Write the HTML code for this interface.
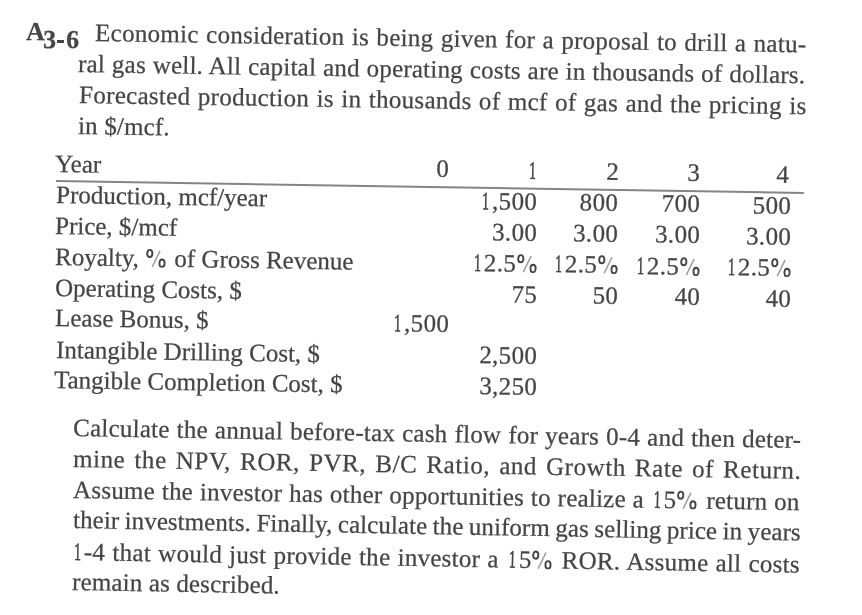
<!DOCTYPE html>
<html><head><meta charset="utf-8"><style>
html,body{margin:0;padding:0;background:#fff;width:862px;height:615px;overflow:hidden;position:relative}
.t{position:absolute;letter-spacing:0.15px;font-family:"Liberation Serif",serif;font-size:25px;line-height:25px;height:25px;white-space:nowrap;color:#454545;transform-origin:0 21px;-webkit-text-stroke:0.25px #454545}
.r{text-align:right;width:200px;letter-spacing:0.3px;margin-right:-0.3px;transform-origin:200px 21px}
.hd{position:absolute;font-family:"Liberation Serif",serif;font-weight:bold;font-size:26px;line-height:25px;height:25px;white-space:nowrap;color:#454545;transform:rotate(0.9deg);transform-origin:0 21px;-webkit-text-stroke:0.25px #454545}
.rule{position:absolute;background:#858585;transform-origin:0 1px}
.blk{position:absolute;background:#454545}
.pc{vertical-align:baseline;margin-bottom:-0.5px}
.one{display:inline-block;transform:scaleX(0.55);-webkit-text-stroke:0.7px #454545}
#w{position:absolute;left:0;top:0;width:862px;height:615px;filter:blur(0.3px)}
</style></head><body><div id="w">
<div class="hd" style="left:26.20px;top:18.90px">A</div>
<div class="hd" style="left:43.40px;top:26.80px">3</div>
<div class="blk" style="left:57.2px;top:39.7px;width:7.4px;height:3.4px;transform:rotate(0.9deg)"></div>
<div class="hd" style="left:66.00px;top:26.80px">6</div>
<div class="t" style="left:95.26px;top:20.40px;transform:rotate(0.9167deg);letter-spacing:0.285px;word-spacing:0.84px">Economic consideration is being given for a proposal to drill a natu-</div>
<div class="t" style="left:78.44px;top:50.90px;transform:rotate(0.8880deg);letter-spacing:0.214px;word-spacing:0.39px">ral gas well. All capital and operating costs are in thousands of dollars.</div>
<div class="t" style="left:78.50px;top:81.80px;transform:rotate(0.8880deg);letter-spacing:0.302px;word-spacing:0.89px">Forecasted production is in thousands of mcf of gas and the pricing is</div>
<div class="t" style="left:77.78px;top:112.60px;transform:rotate(0.8995deg)">in $/mcf.</div>
<div class="t" style="left:72.72px;top:415.10px;transform:rotate(0.9453deg);letter-spacing:0.236px;word-spacing:0.55px">Calculate the annual before-tax cash flow for years 0-4 and then deter-</div>
<div class="t" style="left:72.72px;top:446.40px;transform:rotate(0.9281deg);letter-spacing:0.562px;word-spacing:2.28px">mine the NPV, ROR, PVR, B/C Ratio, and Growth Rate of Return.</div>
<div class="t" style="left:72.74px;top:476.60px;transform:rotate(0.9625deg);letter-spacing:0.217px;word-spacing:0.43px">Assume the investor has other opportunities to realize a <span class="one">1</span>5<svg class="pc" width="23" height="20" viewBox="0 0 23 20"><ellipse cx="4.6" cy="6.0" rx="2.6" ry="3.6" fill="none" stroke="#454545" stroke-width="1.9"/><ellipse cx="17.0" cy="15.6" rx="2.6" ry="3.8" fill="none" stroke="#454545" stroke-width="1.9"/><line x1="14.8" y1="3.2" x2="7.2" y2="19.5" stroke="#9a9a9a" stroke-width="1.5"/></svg> return on</div>
<div class="t" style="left:72.72px;top:507.30px;transform:rotate(0.9854deg);letter-spacing:0.050px;word-spacing:-0.76px">their investments. Finally, calculate the uniform gas selling price in years</div>
<div class="t" style="left:71.16px;top:539.00px;transform:rotate(0.9968deg);letter-spacing:0.269px;word-spacing:0.67px"><span class="one">1</span>-4 that would just provide the investor a <span class="one">1</span>5<svg class="pc" width="23" height="20" viewBox="0 0 23 20"><ellipse cx="4.6" cy="6.0" rx="2.6" ry="3.6" fill="none" stroke="#454545" stroke-width="1.9"/><ellipse cx="17.0" cy="15.6" rx="2.6" ry="3.8" fill="none" stroke="#454545" stroke-width="1.9"/><line x1="14.8" y1="3.2" x2="7.2" y2="19.5" stroke="#9a9a9a" stroke-width="1.5"/></svg> ROR. Assume all costs</div>
<div class="t" style="left:71.74px;top:568.70px;transform:rotate(0.9854deg)">remain as described.</div>
<div class="t" style="left:55.48px;top:151.30px;transform:rotate(0.8880deg);letter-spacing:0">Year</div>
<div class="t" style="left:55.74px;top:181.90px;transform:rotate(0.8880deg);letter-spacing:0">Production, mcf/year</div>
<div class="t" style="left:55.44px;top:213.10px;transform:rotate(0.8880deg);letter-spacing:0">Price, $/mcf</div>
<div class="t" style="left:55.44px;top:244.00px;transform:rotate(0.8880deg);letter-spacing:0">Royalty, <svg class="pc" width="23" height="20" viewBox="0 0 23 20"><ellipse cx="4.6" cy="6.0" rx="2.6" ry="3.6" fill="none" stroke="#454545" stroke-width="1.9"/><ellipse cx="17.0" cy="15.6" rx="2.6" ry="3.8" fill="none" stroke="#454545" stroke-width="1.9"/><line x1="14.8" y1="3.2" x2="7.2" y2="19.5" stroke="#9a9a9a" stroke-width="1.5"/></svg> of Gross Revenue</div>
<div class="t" style="left:54.74px;top:274.50px;transform:rotate(0.8880deg);letter-spacing:0">Operating Costs, $</div>
<div class="t" style="left:54.78px;top:305.30px;transform:rotate(0.8880deg);letter-spacing:0">Lease Bonus, $</div>
<div class="t" style="left:55.50px;top:336.60px;transform:rotate(0.8880deg);letter-spacing:0">Intangible Drilling Cost, $</div>
<div class="t" style="left:54.44px;top:367.00px;transform:rotate(0.8880deg);letter-spacing:0">Tangible Completion Cost, $</div>
<div class="t r" style="left:248.56px;top:156.41px;transform:rotate(0.8880deg)">0</div>
<div class="t r" style="left:339.16px;top:157.78px;transform:rotate(0.8880deg)"><span class="one">1</span></div>
<div class="t r" style="left:418.58px;top:159.05px;transform:rotate(0.8880deg)">2</div>
<div class="t r" style="left:500.40px;top:160.32px;transform:rotate(0.8880deg)">3</div>
<div class="t r" style="left:589.36px;top:161.71px;transform:rotate(0.8880deg)">4</div>
<div class="t r" style="left:336.56px;top:188.88px;transform:rotate(0.8880deg)"><span class="one">1</span>,500</div>
<div class="t r" style="left:418.38px;top:190.15px;transform:rotate(0.8880deg)">800</div>
<div class="t r" style="left:500.40px;top:191.42px;transform:rotate(0.8880deg)">700</div>
<div class="t r" style="left:590.56px;top:192.81px;transform:rotate(0.8880deg)">500</div>
<div class="t r" style="left:336.56px;top:219.58px;transform:rotate(0.8880deg)">3.00</div>
<div class="t r" style="left:418.38px;top:220.85px;transform:rotate(0.8880deg)">3.00</div>
<div class="t r" style="left:500.40px;top:222.12px;transform:rotate(0.8880deg)">3.00</div>
<div class="t r" style="left:590.56px;top:223.51px;transform:rotate(0.8880deg)">3.00</div>
<div class="t r" style="left:338.56px;top:251.08px;transform:rotate(0.8880deg)"><span class="one">1</span>2.5<svg class="pc" width="23" height="20" viewBox="0 0 23 20"><ellipse cx="4.6" cy="6.0" rx="2.6" ry="3.6" fill="none" stroke="#454545" stroke-width="1.9"/><ellipse cx="17.0" cy="15.6" rx="2.6" ry="3.8" fill="none" stroke="#454545" stroke-width="1.9"/><line x1="14.8" y1="3.2" x2="7.2" y2="19.5" stroke="#9a9a9a" stroke-width="1.5"/></svg></div>
<div class="t r" style="left:420.38px;top:252.35px;transform:rotate(0.8880deg)"><span class="one">1</span>2.5<svg class="pc" width="23" height="20" viewBox="0 0 23 20"><ellipse cx="4.6" cy="6.0" rx="2.6" ry="3.6" fill="none" stroke="#454545" stroke-width="1.9"/><ellipse cx="17.0" cy="15.6" rx="2.6" ry="3.8" fill="none" stroke="#454545" stroke-width="1.9"/><line x1="14.8" y1="3.2" x2="7.2" y2="19.5" stroke="#9a9a9a" stroke-width="1.5"/></svg></div>
<div class="t r" style="left:502.40px;top:253.62px;transform:rotate(0.8880deg)"><span class="one">1</span>2.5<svg class="pc" width="23" height="20" viewBox="0 0 23 20"><ellipse cx="4.6" cy="6.0" rx="2.6" ry="3.6" fill="none" stroke="#454545" stroke-width="1.9"/><ellipse cx="17.0" cy="15.6" rx="2.6" ry="3.8" fill="none" stroke="#454545" stroke-width="1.9"/><line x1="14.8" y1="3.2" x2="7.2" y2="19.5" stroke="#9a9a9a" stroke-width="1.5"/></svg></div>
<div class="t r" style="left:592.56px;top:255.01px;transform:rotate(0.8880deg)"><span class="one">1</span>2.5<svg class="pc" width="23" height="20" viewBox="0 0 23 20"><ellipse cx="4.6" cy="6.0" rx="2.6" ry="3.6" fill="none" stroke="#454545" stroke-width="1.9"/><ellipse cx="17.0" cy="15.6" rx="2.6" ry="3.8" fill="none" stroke="#454545" stroke-width="1.9"/><line x1="14.8" y1="3.2" x2="7.2" y2="19.5" stroke="#9a9a9a" stroke-width="1.5"/></svg></div>
<div class="t r" style="left:336.56px;top:281.68px;transform:rotate(0.8880deg)">75</div>
<div class="t r" style="left:418.38px;top:282.95px;transform:rotate(0.8880deg)">50</div>
<div class="t r" style="left:500.40px;top:284.22px;transform:rotate(0.8880deg)">40</div>
<div class="t r" style="left:590.56px;top:285.61px;transform:rotate(0.8880deg)">40</div>
<div class="t r" style="left:248.56px;top:310.51px;transform:rotate(0.8880deg)"><span class="one">1</span>,500</div>
<div class="t r" style="left:336.56px;top:342.98px;transform:rotate(0.8880deg)">2,500</div>
<div class="t r" style="left:336.56px;top:373.88px;transform:rotate(0.8880deg)">3,250</div>
<div class="rule" style="left:56.00px;top:180.00px;width:747.89px;height:2px;transform:rotate(0.9117deg)"></div>
</div></body></html>
